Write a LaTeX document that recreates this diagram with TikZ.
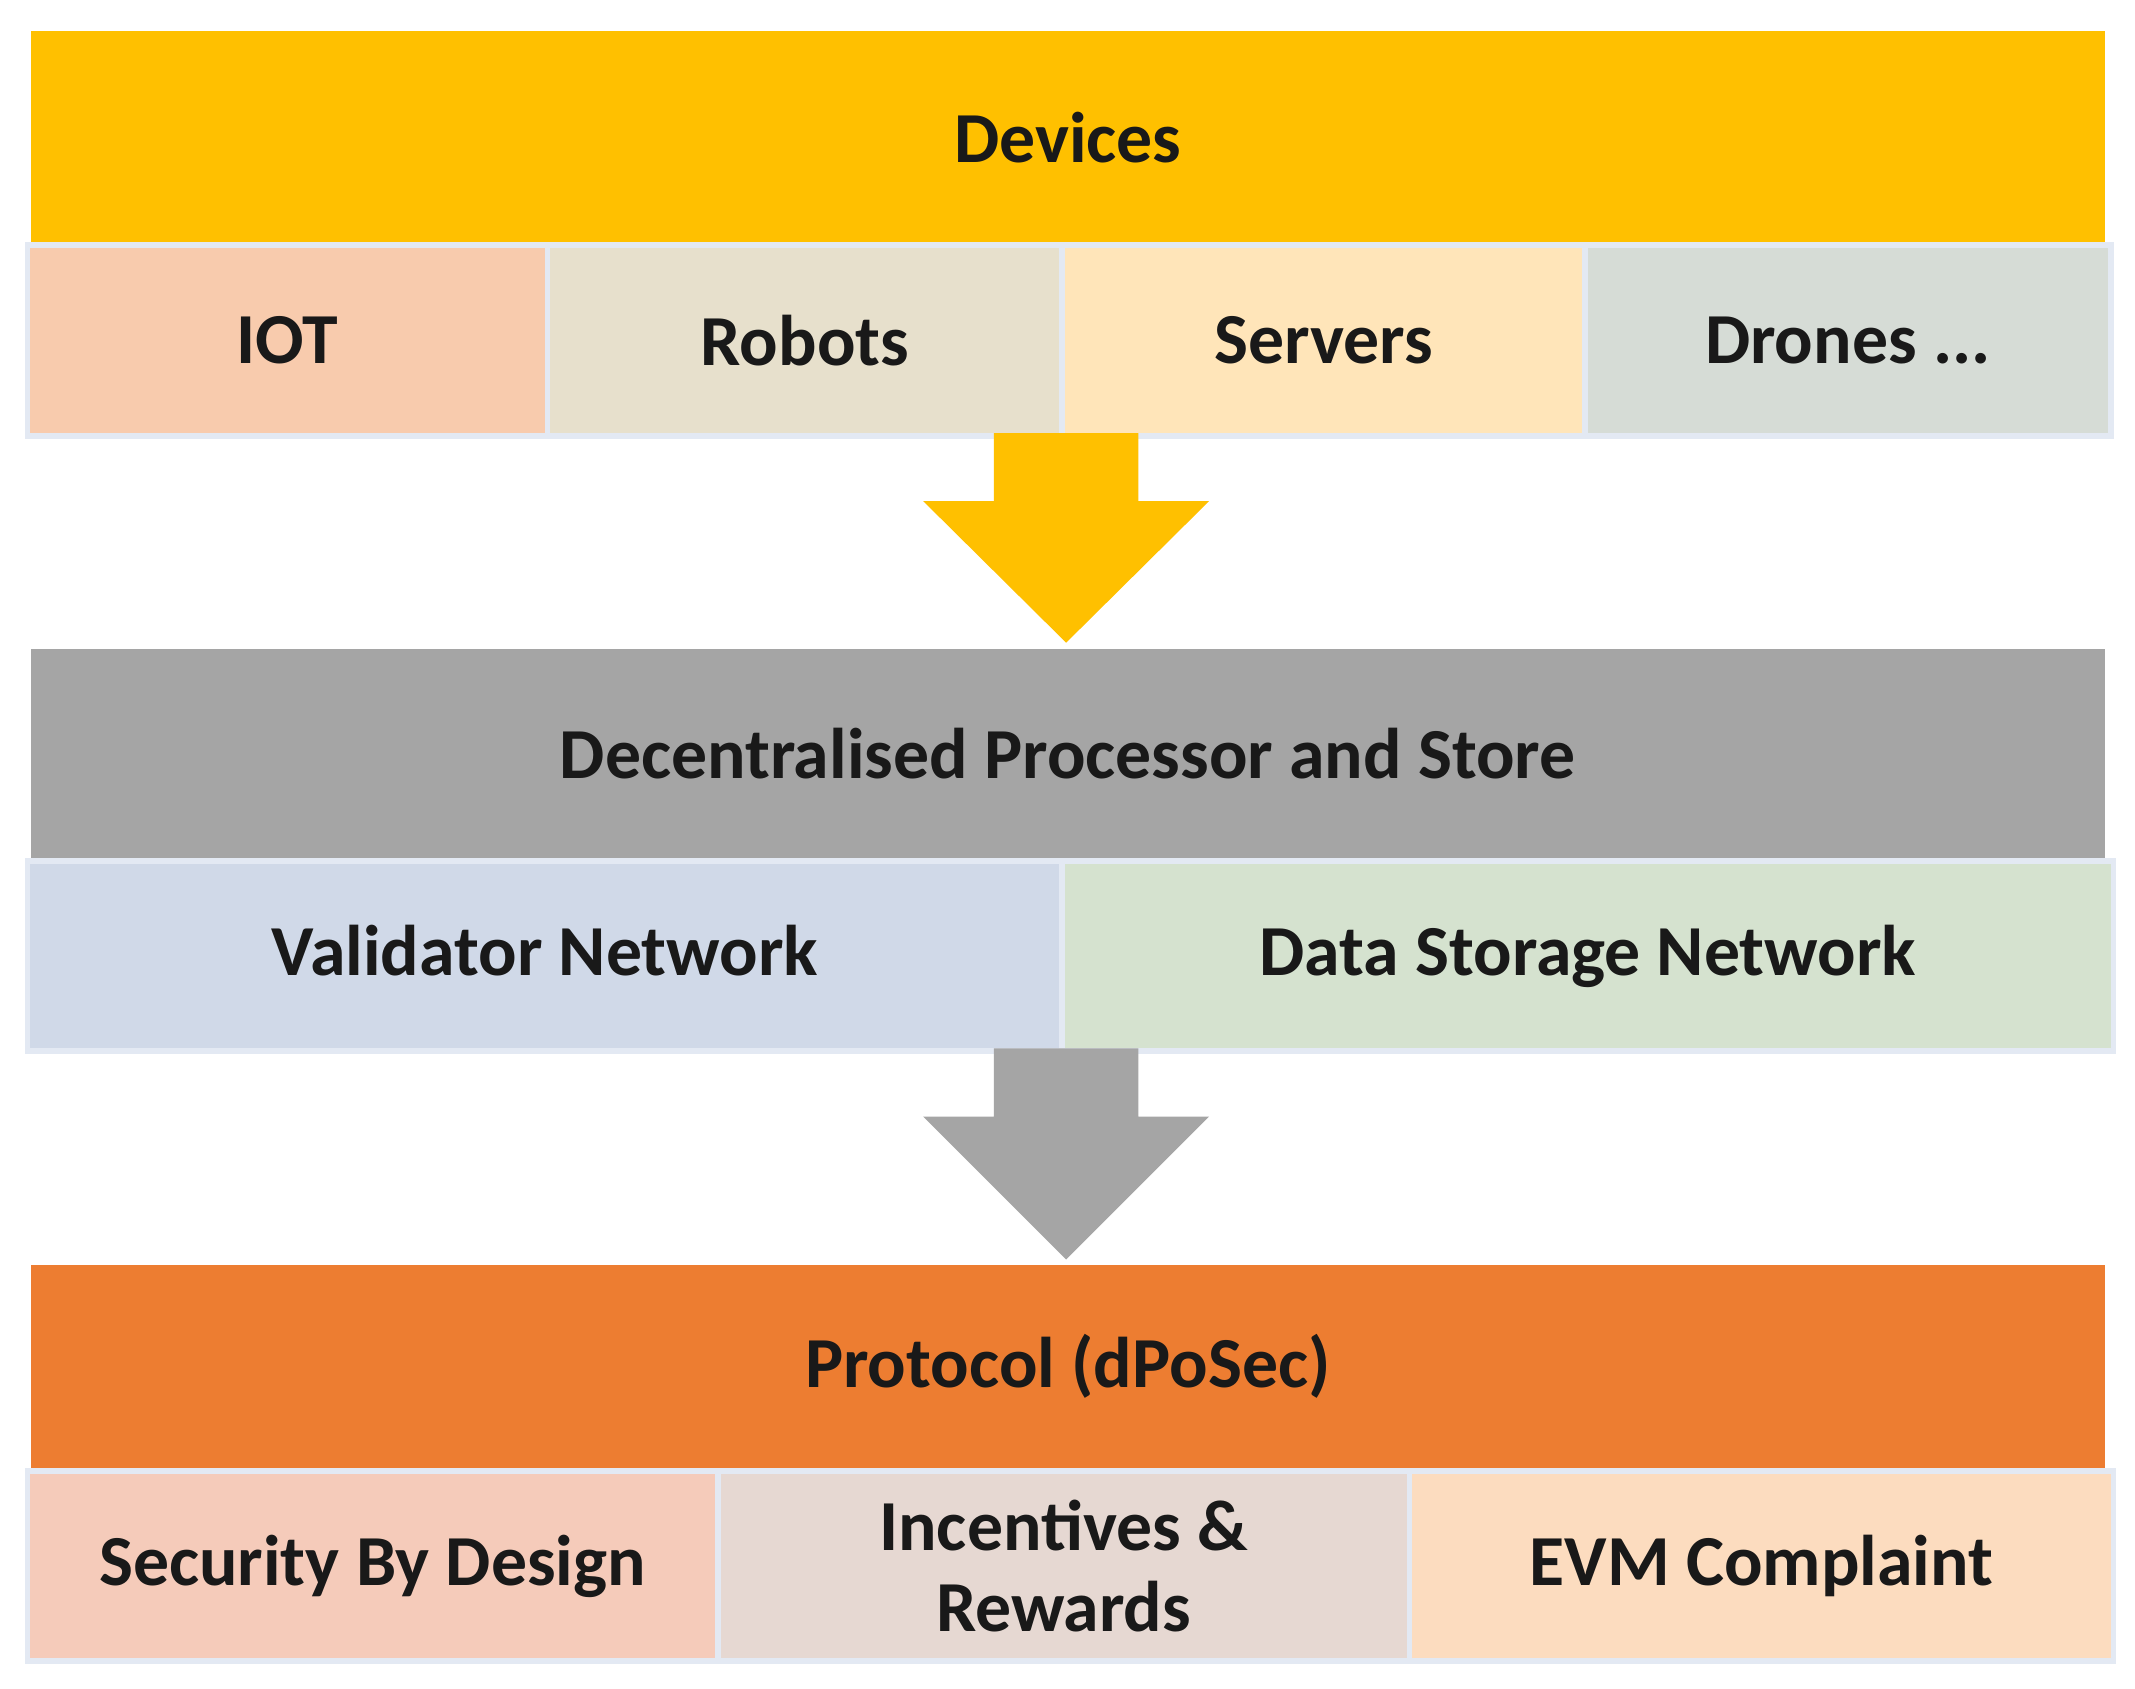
\documentclass[tikz,border=0pt]{standalone}
\usepackage{fontspec}
\setmainfont{Carlito}
\definecolor{cDev}{HTML}{FFC000}
\definecolor{cIot}{HTML}{F8CBAD}
\definecolor{cRob}{HTML}{E7E0CC}
\definecolor{cSrv}{HTML}{FFE5B9}
\definecolor{cDro}{HTML}{D6DCD6}
\definecolor{cProc}{HTML}{A5A5A5}
\definecolor{cVal}{HTML}{D0D9E8}
\definecolor{cDat}{HTML}{D5E2CF}
\definecolor{cProt}{HTML}{ED7D31}
\definecolor{cSec}{HTML}{F5CBBA}
\definecolor{cInc}{HTML}{E6D8D2}
\definecolor{cEvm}{HTML}{FCDCBF}
\definecolor{cEdge}{HTML}{E3E9F3}
\begin{document}
\begin{tikzpicture}[x=1cm,y=-1cm,
  bar/.style={anchor=north west,inner sep=0pt,text=black!90,font=\fontsize{15}{17}\selectfont\bfseries},
  cell/.style={bar,draw=cEdge,line width=1.2pt,align=center}]
\useasboundingbox[fill=white] (0,0) rectangle (15.68,12.40);
% devices
\node[bar,fill=cDev,minimum width=15.23cm,minimum height=1.56cm] (dev) at (0.22,0.22) {Devices};
\node[cell,fill=cIot,minimum width=3.82cm,minimum height=1.40cm] (iot) at (0.18,1.78) {IOT};
\node[cell,fill=cRob,minimum width=3.78cm,minimum height=1.40cm] (rob) at (4.00,1.78) {Robots};
\node[cell,fill=cSrv,minimum width=3.84cm,minimum height=1.40cm] (srv) at (7.78,1.78) {Servers};
\node[cell,fill=cDro,minimum width=3.86cm,minimum height=1.40cm] (dro) at (11.62,1.78) {Drones ...};
% processor
\node[bar,fill=cProc,minimum width=15.23cm,minimum height=1.54cm] (proc) at (0.22,4.76) {Decentralised Processor and Store};
\node[cell,fill=cVal,minimum width=7.60cm,minimum height=1.40cm,text depth=0.5ex] (val) at (0.18,6.30) {Validator Network};
\node[cell,fill=cDat,minimum width=7.72cm,minimum height=1.40cm,text depth=0.5ex] (dat) at (7.78,6.30) {Data Storage Network};
% protocol
\node[bar,fill=cProt,minimum width=15.23cm,minimum height=1.50cm] (prot) at (0.22,9.28) {Protocol (dPoSec)};
\node[cell,fill=cSec,minimum width=5.07cm,minimum height=1.40cm] (sec) at (0.18,10.78) {Security By Design};
\node[cell,fill=cInc,minimum width=5.08cm,minimum height=1.40cm] (inc) at (5.25,10.78) {Incentives \&\\Rewards};
\node[cell,fill=cEvm,minimum width=5.17cm,minimum height=1.40cm] (evm) at (10.33,10.78) {EVM Complaint};
% arrows
\fill[cDev] (7.30,3.18) -- (8.36,3.18) -- (8.36,3.68) -- (8.88,3.68) -- (7.83,4.72) -- (6.78,3.68) -- (7.30,3.68) -- cycle;
\fill[cProc] (7.30,7.70) -- (8.36,7.70) -- (8.36,8.20) -- (8.88,8.20) -- (7.83,9.25) -- (6.78,8.20) -- (7.30,8.20) -- cycle;
\end{tikzpicture}
\end{document}
